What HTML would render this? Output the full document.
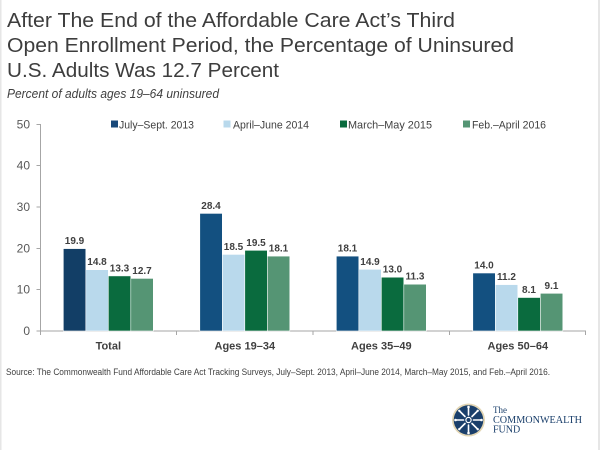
<!DOCTYPE html>
<html>
<head>
<meta charset="utf-8">
<style>
  html,body{margin:0;padding:0;background:#fff;}
  body{width:600px;height:450px;overflow:hidden;}
  svg{display:block;}
</style>
</head>
<body>
<svg width="600" height="450" viewBox="0 0 600 450" xmlns="http://www.w3.org/2000/svg" font-family="'Liberation Sans', sans-serif">
  <rect x="0" y="0" width="600" height="450" fill="#fff"/>
  <rect x="0" y="0" width="1.5" height="450" fill="#e6e6e6"/>
  <rect x="598" y="0" width="2" height="450" fill="#e6e6e6"/>

  <!-- Title -->
  <g fill="#3d3d3d" font-size="20">
    <text x="7" y="27" textLength="448" lengthAdjust="spacingAndGlyphs">After The End of the Affordable Care Act’s Third</text>
    <text x="7" y="52" textLength="507" lengthAdjust="spacingAndGlyphs">Open Enrollment Period, the Percentage of Uninsured</text>
    <text x="7" y="77" textLength="272" lengthAdjust="spacingAndGlyphs">U.S. Adults Was 12.7 Percent</text>
  </g>
  <text x="7" y="98" font-size="12.5" font-style="italic" fill="#404040" textLength="212" lengthAdjust="spacingAndGlyphs">Percent of adults ages 19–64 uninsured</text>

  <!-- Y axis -->
  <g stroke="#a6a6a6" stroke-width="1" fill="none">
    <line x1="40.5" y1="124" x2="40.5" y2="331"/>
    <line x1="36.5" y1="124.5" x2="40.5" y2="124.5"/>
    <line x1="36.5" y1="165.5" x2="40.5" y2="165.5"/>
    <line x1="36.5" y1="207" x2="40.5" y2="207"/>
    <line x1="36.5" y1="248.5" x2="40.5" y2="248.5"/>
    <line x1="36.5" y1="289.5" x2="40.5" y2="289.5"/>
    <line x1="36.5" y1="331" x2="586" y2="331"/>
    <line x1="40.5" y1="331" x2="40.5" y2="335"/>
    <line x1="176.5" y1="331" x2="176.5" y2="335"/>
    <line x1="313" y1="331" x2="313" y2="335"/>
    <line x1="449.5" y1="331" x2="449.5" y2="335"/>
    <line x1="585.5" y1="331" x2="585.5" y2="335"/>
  </g>
  <g font-size="12" fill="#595959" text-anchor="end">
    <text x="30" y="128.5">50</text>
    <text x="30" y="169.5">40</text>
    <text x="30" y="211">30</text>
    <text x="30" y="252.5">20</text>
    <text x="30" y="293.5">10</text>
    <text x="30" y="335">0</text>
  </g>

  <!-- Legend -->
  <rect x="111" y="120.5" width="7" height="7" fill="#18497a"/>
  <text x="119" y="128.5" font-size="11" fill="#404040" textLength="75" lengthAdjust="spacingAndGlyphs">July–Sept. 2013</text>
  <rect x="223.5" y="120.5" width="7" height="7" fill="#b9d9ec"/>
  <text x="233" y="128.5" font-size="11" fill="#404040" textLength="76" lengthAdjust="spacingAndGlyphs">April–June 2014</text>
  <rect x="340" y="120.5" width="7" height="7" fill="#0a6b3e"/>
  <text x="348" y="128.5" font-size="11" fill="#404040" textLength="84" lengthAdjust="spacingAndGlyphs">March–May 2015</text>
  <rect x="463" y="120.5" width="7" height="7" fill="#559574"/>
  <text x="472" y="128.5" font-size="11" fill="#404040" textLength="74" lengthAdjust="spacingAndGlyphs">Feb.–April 2016</text>

  <!-- Bars -->
  <g stroke="#ffffff" stroke-width="0.6">
    <!-- Total -->
    <rect x="63.3" y="248.6" width="22.5" height="82.4" fill="#123e66"/>
    <rect x="85.8" y="269.7" width="22.5" height="61.3" fill="#b9d9ec"/>
    <rect x="108.3" y="275.9" width="22.5" height="55.1" fill="#0a6b3e"/>
    <rect x="130.8" y="278.4" width="22.5" height="52.6" fill="#559574"/>
    <!-- 19-34 -->
    <rect x="199.8" y="213.4" width="22.5" height="117.6" fill="#135080"/>
    <rect x="222.3" y="254.4" width="22.5" height="76.6" fill="#b9d9ec"/>
    <rect x="244.8" y="250.3" width="22.5" height="80.7" fill="#0a6b3e"/>
    <rect x="267.3" y="256.1" width="22.5" height="74.9" fill="#559574"/>
    <!-- 35-49 -->
    <rect x="336.3" y="256.1" width="22.5" height="74.9" fill="#135080"/>
    <rect x="358.8" y="269.3" width="22.5" height="61.7" fill="#b9d9ec"/>
    <rect x="381.3" y="277.2" width="22.5" height="53.8" fill="#0a6b3e"/>
    <rect x="403.8" y="284.2" width="22.5" height="46.8" fill="#559574"/>
    <!-- 50-64 -->
    <rect x="472.8" y="273.0" width="22.5" height="58.0" fill="#135080"/>
    <rect x="495.3" y="284.6" width="22.5" height="46.4" fill="#b9d9ec"/>
    <rect x="517.8" y="297.5" width="22.5" height="33.5" fill="#0a6b3e"/>
    <rect x="540.3" y="293.3" width="22.5" height="37.7" fill="#559574"/>
  </g>

  <!-- Data labels -->
  <g font-size="10" font-weight="bold" fill="#404040" text-anchor="middle">
    <text x="74.5" y="244">19.9</text>
    <text x="97" y="265.2">14.8</text>
    <text x="119.5" y="271.4">13.3</text>
    <text x="142" y="273.9">12.7</text>

    <text x="211" y="208.9">28.4</text>
    <text x="233.5" y="249.9">18.5</text>
    <text x="256" y="245.8">19.5</text>
    <text x="278.5" y="251.6">18.1</text>

    <text x="347.5" y="251.6">18.1</text>
    <text x="370" y="264.8">14.9</text>
    <text x="392.5" y="272.7">13.0</text>
    <text x="415" y="279.7">11.3</text>

    <text x="484" y="268.5">14.0</text>
    <text x="506.5" y="280.1">11.2</text>
    <text x="529" y="293">8.1</text>
    <text x="551.5" y="288.8">9.1</text>
  </g>

  <!-- Category labels -->
  <g font-size="11" font-weight="bold" fill="#404040" text-anchor="middle">
    <text x="108.3" y="349.5">Total</text>
    <text x="244.8" y="349.5">Ages 19–34</text>
    <text x="381.3" y="349.5">Ages 35–49</text>
    <text x="517.8" y="349.5">Ages 50–64</text>
  </g>

  <!-- Source -->
  <text x="6" y="375" font-size="9" fill="#404040" textLength="544" lengthAdjust="spacingAndGlyphs">Source: The Commonwealth Fund Affordable Care Act Tracking Surveys, July–Sept. 2013, April–June 2014, March–May 2015, and Feb.–April 2016.</text>

  <!-- Logo -->
  <g>
    <circle cx="468.5" cy="420" r="16.5" fill="#e3d6b4"/>
    <circle cx="468.5" cy="420" r="14.8" fill="#1a3f6b"/>
    <g stroke="#ffffff" stroke-width="1.6" stroke-linecap="round">
      <line x1="468.5" y1="415" x2="468.5" y2="408"/>
      <line x1="468.5" y1="425" x2="468.5" y2="432"/>
      <line x1="463.5" y1="420" x2="456.5" y2="420"/>
      <line x1="473.5" y1="420" x2="480.5" y2="420"/>
      <line x1="465" y1="416.5" x2="460" y2="411.5"/>
      <line x1="472" y1="416.5" x2="477" y2="411.5"/>
      <line x1="465" y1="423.5" x2="460" y2="428.5"/>
      <line x1="472" y1="423.5" x2="477" y2="428.5"/>
    </g>
    <circle cx="468.5" cy="420" r="2.6" fill="none" stroke="#ffffff" stroke-width="1.2"/>
    <g fill="#ffffff">
      <circle cx="468.5" cy="407" r="1.3"/>
      <circle cx="468.5" cy="433" r="1.3"/>
      <circle cx="455.5" cy="420" r="1.3"/>
      <circle cx="481.5" cy="420" r="1.3"/>
      <circle cx="459.3" cy="410.8" r="1.2"/>
      <circle cx="477.7" cy="410.8" r="1.2"/>
      <circle cx="459.3" cy="429.2" r="1.2"/>
      <circle cx="477.7" cy="429.2" r="1.2"/>
    </g>
    <g font-family="'Liberation Serif', serif" fill="#1a3f6b">
      <text x="493" y="413" font-size="9">The</text>
      <text x="493" y="423" font-size="10" textLength="89" lengthAdjust="spacingAndGlyphs">COMMONWEALTH</text>
      <text x="493" y="432.5" font-size="10">FUND</text>
    </g>
  </g>
</svg>
</body>
</html>
